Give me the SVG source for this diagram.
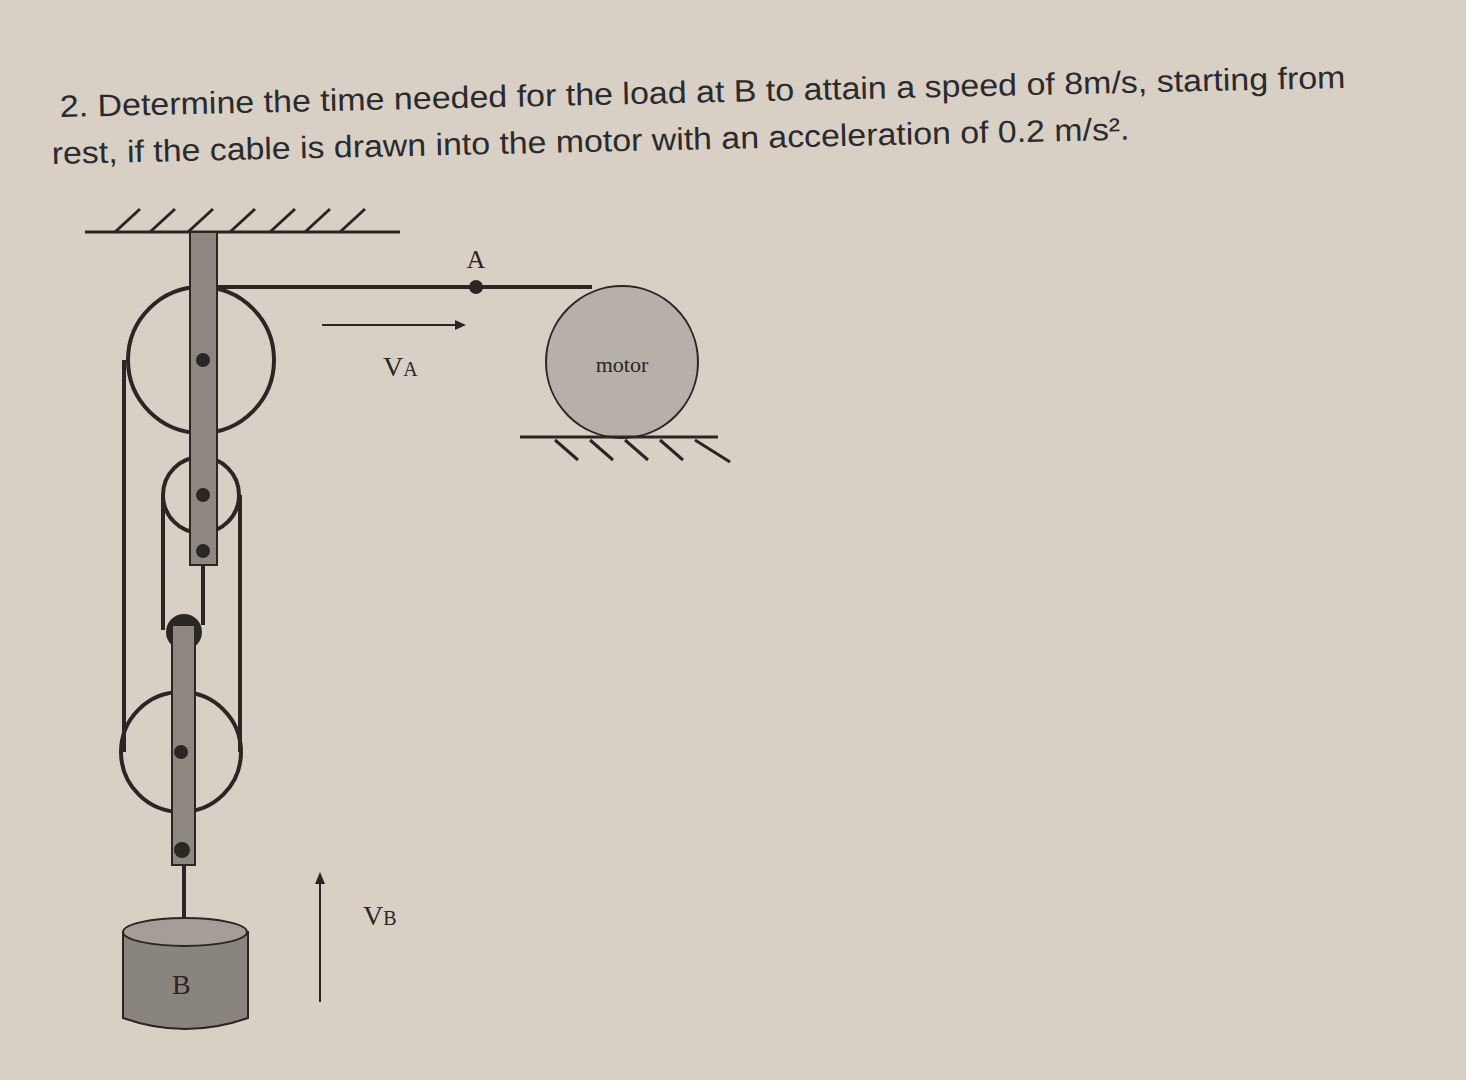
<svg xmlns="http://www.w3.org/2000/svg" width="1466" height="1080" viewBox="0 0 1466 1080">
<style>
.c{fill:none;stroke:#2a2624;stroke-width:4}
.t{stroke:#2a2624;stroke-width:3;fill:none}
.q{font-family:"Liberation Sans",Arial,sans-serif;font-size:31px;fill:#2b2a2c}
.s{font-family:"Liberation Serif",serif;fill:#2a2624}
.bar{fill:#8e8780;stroke:#2a2624;stroke-width:2}
.d{fill:#2a2624}
</style>
<rect width="1466" height="1080" fill="#d9d0c5"/>
<text class="q" x="60" y="117" transform="rotate(-1.3 60 117)" textLength="1286" lengthAdjust="spacingAndGlyphs">2. Determine the time needed for the load at B to attain a speed of 8m/s, starting from</text>
<text class="q" x="52" y="164" transform="rotate(-1.3 52 164)" textLength="1078" lengthAdjust="spacingAndGlyphs">rest, if the cable is drawn into the motor with an acceleration of 0.2 m/s².</text>
<g id="ceiling" class="t"><path d="M85 232H400"/><path d="M115 232L140 209M150 232L175 209M188 232L213 209M230 232L255 209M270 232L295 209M305 232L330 209M340 232L365 209"/></g>
<g id="connectors">
<path class="c" d="M217 287H592"/>
<path class="c" d="M124 360V752"/>
<path class="c" d="M240 495V752"/>
<path class="c" d="M163 495V630"/>
<path class="c" d="M203 565V625"/>
<path class="c" d="M184 865V925"/>
<path d="M322 325H458" stroke="#2a2624" stroke-width="2"/><path d="M466 325L455 320V330Z" class="d"/>
<path d="M320 1002V880" stroke="#2a2624" stroke-width="2"/><path d="M320 872L315 884H325Z" class="d"/>
</g>
<g id="pulley1"><circle class="c" cx="201" cy="360" r="73"/></g>
<g id="pulley2"><circle class="c" cx="201" cy="495" r="38"/></g>
<g id="pulley3"><circle class="c" cx="181" cy="752" r="60"/></g>
<g id="upperbar"><rect class="bar" x="190" y="232" width="27" height="333"/><circle class="d" cx="203" cy="360" r="7"/><circle class="d" cx="203" cy="495" r="7"/><circle class="d" cx="203" cy="551" r="7"/></g>
<g id="lowerbar"><circle class="d" cx="184" cy="632" r="18"/><rect class="bar" x="172" y="625" width="23" height="240"/><circle class="d" cx="181" cy="752" r="7"/><circle class="d" cx="182" cy="850" r="8"/></g>
<g id="B"><path d="M123 932V1018Q185 1040 248 1018V932Z" fill="#8a847e" stroke="#2a2624" stroke-width="2"/><ellipse cx="185" cy="932" rx="62" ry="14" fill="#a59e96" stroke="#2a2624" stroke-width="2"/><text class="s" x="172" y="994" font-size="28">B</text></g>
<g id="motor"><circle cx="622" cy="362" r="76" fill="#b7b0a9" stroke="#2a2624" stroke-width="2"/><text class="s" x="622" y="372" font-size="22" text-anchor="middle">motor</text>
<g class="t"><path d="M520 437H718M555 440L578 460M590 440L613 460M625 440L648 460M660 440L683 460M695 440L730 462"/></g></g>
<g id="A"><circle class="d" cx="476" cy="287" r="7"/><text class="s" x="476" y="268" font-size="26" text-anchor="middle">A</text></g>
<text class="s" x="383" y="376" font-size="28">V<tspan font-size="20">A</tspan></text>
<text class="s" x="363" y="925" font-size="28">V<tspan font-size="20">B</tspan></text>
</svg>
